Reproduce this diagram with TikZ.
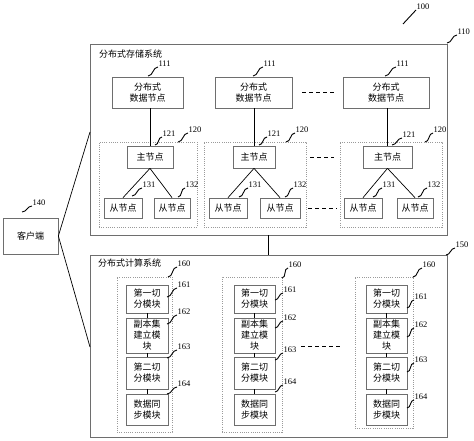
\documentclass[tikz,border=0pt]{standalone}
\usepackage{fontspec}
\setmainfont{Liberation Serif}
\newfontfamily\cjk{Noto Sans CJK SC}
\definecolor{boxgray}{HTML}{6E6E6E}
\definecolor{grpgray}{HTML}{9A9A9A}
\newcommand\numlab[4]{%
  \coordinate (#1s) at #2;
  \node[num] (#1) at #3 {#4};
  \draw[lead] (#1s) to[out=0,in=180] (#1.south west);}
\begin{document}
\begin{tikzpicture}[x=1pt,y=-1pt,
  box/.style={draw=boxgray, line width=0.7pt, fill=white, inner sep=0pt,
    font=\cjk\fontsize{9}{11}\selectfont, align=center},
  sys/.style={draw=boxgray, line width=0.8pt, inner sep=0pt},
  grp/.style={draw=grpgray, dash pattern=on 0.9pt off 1.3pt, line width=0.6pt, inner sep=0pt},
  title/.style={font=\cjk\fontsize{9}{11}\selectfont, anchor=west, inner sep=0pt},
  num/.style={font=\fontsize{8.5}{9}\selectfont, inner sep=0.3pt, anchor=south west},
  lead/.style={line width=0.9pt},
  conn/.style={line width=0.7pt},
  dashline/.style={dash pattern=on 4pt off 3pt, line width=0.8pt}]
\useasboundingbox (0,0) rectangle (474,441);

% system boxes
\node[sys, minimum width=357, minimum height=191] (sto) at (268.5,139.5) {};
\node[title] (stot) at (99,54) {分布式存储系统};
\node[sys, minimum width=357, minimum height=182] (comp) at (268.5,346) {};
\node[title] (compt) at (98,263) {分布式计算系统};
\draw[conn] (sto) -- (comp);

% client
\node[box, minimum width=55, minimum height=36] (cli) at (30.5,236) {客户端};
\coordinate (up) at (90,132);
\coordinate (dn) at (90,347);
\draw[conn] (cli.east) -- (up);
\draw[conn] (cli.east) -- (dn);

% storage columns
\foreach \c/\dx/\dw/\mx/\mw/\lx/\lw/\rx/\rw/\gx/\gw in
  {A/147.5/71/150/46/123/38/172/36/148/98,
   B/253.5/77/254/42/228/38/280/40/255/102,
   C/386/86/387.5/49/363/38/415/36/391/102}{
  \node[box, minimum width=\dw, minimum height=31] (d\c) at (\dx,92.5) {分布式\\数据节点};
  \node[grp, minimum width=\gw, minimum height=85] (g\c) at (\gx,184.5) {};
  \node[box, minimum width=\mw, minimum height=22] (m\c) at (\mx,157) {主节点};
  \node[box, minimum width=\lw, minimum height=20] (l\c) at (\lx,208) {从节点};
  \node[box, minimum width=\rw, minimum height=20] (r\c) at (\rx,208) {从节点};
  \draw[conn] (m\c.north) -- (m\c.north |- d\c.south);
  \draw[conn] (m\c.south) -- (l\c.north);
  \draw[conn] (m\c.south) -- (r\c.north);
}
\draw[dashline] ([xshift=10]dB.east) -- ([xshift=-6]dC.west);
\draw[dashline] ([xshift=4]gB.east |- mB.center) -- ([xshift=-6]gC.west |- mC.center);
\draw[dashline] ([xshift=2]gB.east |- rB.center) -- ([xshift=-3]gC.west |- lC.center);

% compute columns
\foreach \c/\mx/\mw/\gx/\gw/\gh/\gy in
  {A/147/42/144.5/55/155/354.5,
   B/254.5/41/252/60/155/354.5,
   C/386.5/41/384/58/151/352.5}{
  \node[grp, minimum width=\gw, minimum height=\gh] (k\c) at (\gx,\gy) {};
  \node[box, minimum width=\mw, minimum height=28] (\c1) at (\mx,299) {第一切\\分模块};
  \node[box, minimum width=\mw, minimum height=35] (\c2) at (\mx,335.5) {副本集\\建立模\\块};
  \node[box, minimum width=\mw, minimum height=32] (\c3) at (\mx,373) {第二切\\分模块};
  \node[box, minimum width=\mw, minimum height=31] (\c4) at (\mx,409.5) {数据同\\步模块};
  \draw[conn] (\c1) -- (\c2);
  \draw[conn] (\c2) -- (\c3);
  \draw[conn] (\c3) -- (\c4);
}
\coordinate (cdy) at (0,346);
\draw[dashline] ([xshift=19]kB.east |- cdy) -- ([xshift=-13]kC.west |- cdy);

% reference numerals
\coordinate (l100s) at (403,24);
\node[num] (l100) at (416,10) {100};
\draw[lead] (l100s) -- (l100.south west);
\numlab{l110}{(447,43)}{(457,35)}{110}
\numlab{l140}{(22,212)}{(32,206)}{140}
\numlab{l150}{(446,255)}{(455,248)}{150}

\numlab{la111}{(148,76)}{(158,67)}{111}
\numlab{lb111}{(253,76)}{(263,67)}{111}
\numlab{lc111}{(385,76)}{(396,67)}{111}
\numlab{la121}{(155,145)}{(162,137)}{121}
\numlab{lb121}{(259,145)}{(267,137)}{121}
\numlab{lc121}{(392,145)}{(402,138)}{121}
\numlab{la120}{(178,142)}{(188,133)}{120}
\numlab{lb120}{(286,142)}{(295,133)}{120}
\numlab{lc120}{(425,142)}{(433,133)}{120}
\numlab{la131}{(132,196)}{(142,188)}{131}
\numlab{lb131}{(239,197)}{(248,188)}{131}
\numlab{lc131}{(373,197)}{(382,188)}{131}
\numlab{la132}{(178,197)}{(185,188)}{132}
\numlab{lb132}{(285,197)}{(293,188)}{132}
\numlab{lc132}{(418,197)}{(427,188)}{132}

\numlab{ka160}{(168,277)}{(177,267)}{160}
\numlab{ka161}{(167,297)}{(177,288)}{161}
\numlab{ka162}{(167,324)}{(177,315)}{162}
\numlab{ka163}{(167,358)}{(177,350)}{163}
\numlab{ka164}{(167,394)}{(177,387)}{164}
\numlab{kb160}{(282,278)}{(288,268)}{160}
\numlab{kb161}{(275,300)}{(283,293)}{161}
\numlab{kb162}{(275,328)}{(283,321)}{162}
\numlab{kb163}{(275,360)}{(283,353)}{163}
\numlab{kb164}{(275,392)}{(283,385)}{164}
\numlab{kc160}{(413,277)}{(422,268)}{160}
\numlab{kc161}{(407,308)}{(414,300)}{161}
\numlab{kc162}{(407,337)}{(414,328)}{162}
\numlab{kc163}{(407,372)}{(414,363)}{163}
\numlab{kc164}{(407,408)}{(414,400)}{164}
\end{tikzpicture}
\end{document}
